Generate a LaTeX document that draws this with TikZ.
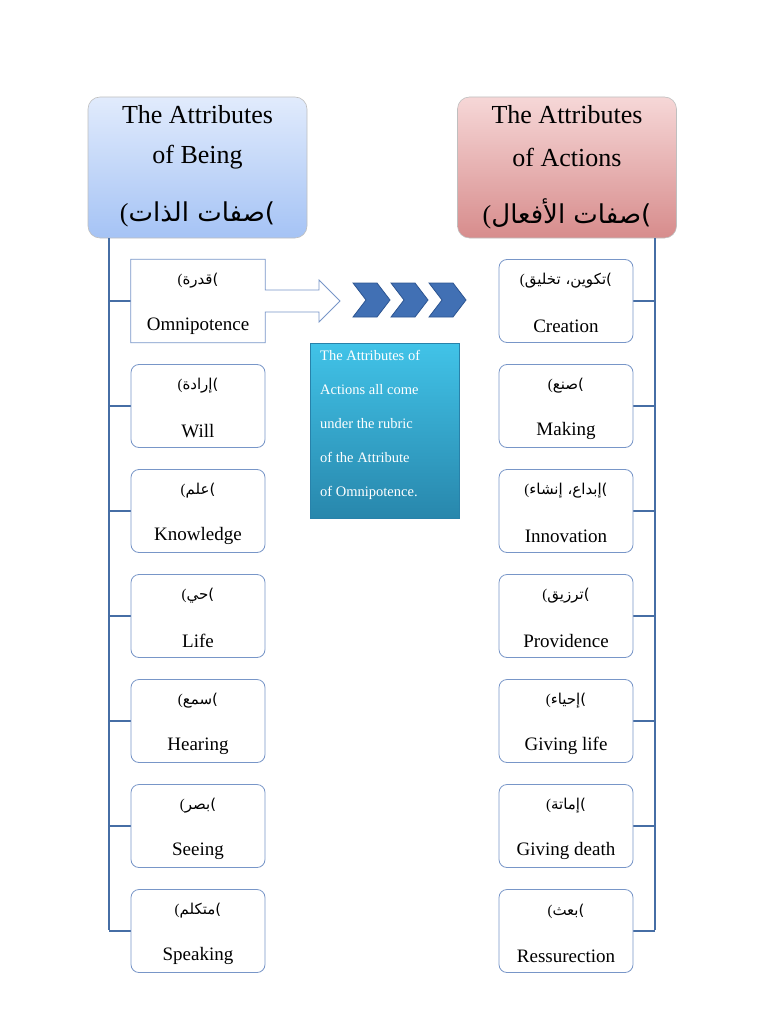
\documentclass[tikz,border=0pt]{standalone}
\usepackage{fontspec}
\setmainfont{Liberation Serif}
\newfontfamily\arabicfont[Script=Arabic]{DejaVu Sans}
\TeXXeTstate=1
\begin{document}
\begin{tikzpicture}[x=1pt,y=-1pt,
  bx/.style={draw=blue!30!cyan!40!gray!80, draw={rgb,255:red,120;green,150;blue,200}, rounded corners=8pt, line width=0.8pt, fill=white, minimum width=134pt, minimum height=83pt, inner sep=0pt},
  hd/.style={rounded corners=12pt, minimum width=219pt, minimum height=141pt, inner sep=0pt, draw=gray!50, line width=0.6pt},
  en/.style={font=\fontsize{19}{20}\selectfont, inner sep=0pt},
  ar/.style={font=\fontsize{15}{18}\selectfont, inner sep=0pt},
  big/.style={font=\fontsize{26}{28}\selectfont, inner sep=0pt},
  trunk/.style={draw={rgb,255:red,70;green,110;blue,165}, line width=2.2pt},
  chev/.style={fill={rgb,255:red,65;green,112;blue,180}, draw={rgb,255:red,45;green,85;blue,145}, line width=0.8pt}]
\useasboundingbox (0,0) rectangle (768,1024);
\newcommand{\arb}[1]{(\arabicfont\beginR #1\endR)}
% headers
\node[hd, top color={rgb,255:red,225;green,235;blue,252}, bottom color={rgb,255:red,165;green,195;blue,245}] (hl) at (197.5,167.5) {};
\node[hd, top color={rgb,255:red,246;green,215;blue,215}, bottom color={rgb,255:red,215;green,140;blue,140}] (hr) at (567,167.5) {};
\node[big] (hl1) at (197.5,115) {The Attributes};
\node[big] (hl2) at (197.5,157) {of Being};
\node[big] (hl3) at (197.5,214) {\arb{صفات الذات}};
\node[big] (hr1) at (567,115) {The Attributes};
\node[big] (hr2) at (567,157) {of Actions};
\node[big] (hr3) at (567,214) {\arb{صفات الأفعال}};
% trunks
\coordinate (lb) at (109,930);
\coordinate (rb) at (655,930);
\draw[trunk] (hl.south -| lb) -- (lb);
\draw[trunk] (hr.south -| rb) -- (rb);
% left boxes
\foreach \i/\en/\ar in {1/Omnipotence/قدرة,2/Will/إرادة,3/Knowledge/علم,4/Life/حي,5/Hearing/سمع,6/Seeing/بصر,7/Speaking/متكلم}{
  \pgfmathsetmacro\yy{301+105*(\i-1)}
  \ifnum\i=1
    \node[minimum width=134pt, minimum height=83pt, inner sep=0pt] (L\i) at (198,\yy) {};
  \else
    \draw[trunk] (109,\yy) -- (131,\yy);
    \node[bx] (L\i) at (198,\yy) {};
  \fi
  \node[en] at ([yshift=-25pt]L\i.center) {\en};
  \node[ar] at ([yshift=20pt]L\i.center) {\arb{\ar}};
}
\draw[trunk] (109,301) -- (L1.west);
% omnipotence arrow shape
\draw[draw={rgb,255:red,120;green,150;blue,200}, line width=0.8pt, fill=white]
  (L1.north west) -- (L1.north east) -- (L1.east |- 0,290) -- (319,290) -- (319,280) -- (340,301)
  -- (319,322) -- (319,312) -- (L1.east |- 0,312) -- (L1.south east) -- (L1.south west) -- cycle;
\node[en] at ([yshift=-25pt]L1.center) {Omnipotence};
\node[ar] at ([yshift=20pt]L1.center) {\arb{قدرة}};
% right boxes
\foreach \i/\en/\ar in {1/Creation/تكوين، تخليق,2/Making/صنع,3/Innovation/إبداع، إنشاء,4/Providence/ترزيق,5/Giving life/إحياء,6/Giving death/إماتة,7/Ressurection/بعث}{
  \pgfmathsetmacro\yy{301+105*(\i-1)}
  \draw[trunk] (633,\yy) -- (655,\yy);
  \node[bx] (R\i) at (566,\yy) {};
  \node[en] at ([yshift=-25pt]R\i.center) {\en};
  \node[ar] at ([yshift=20pt]R\i.center) {\arb{\ar}};
}
% chevrons
\foreach \x in {353,391,429}{
  \draw[chev] (\x,283) -- (\x+24,283) -- (\x+37,300) -- (\x+24,317) -- (\x,317) -- (\x+13,300) -- cycle;
}
% note
\node[minimum width=149pt, minimum height=175pt, inner sep=0pt, draw={rgb,255:red,40;green,130;blue,170}, top color={rgb,255:red,65;green,195;blue,232}, bottom color={rgb,255:red,40;green,135;blue,172}, drop shadow/.style={}] (note) at (384.5,430.5) {};
\node[anchor=north west, text=white, align=left, font=\fontsize{14.5}{34}\selectfont, inner sep=0pt] at (320,350) {The Attributes of\\Actions all come\\under the rubric\\of the Attribute\\of Omnipotence.};
\end{tikzpicture}
\end{document}
